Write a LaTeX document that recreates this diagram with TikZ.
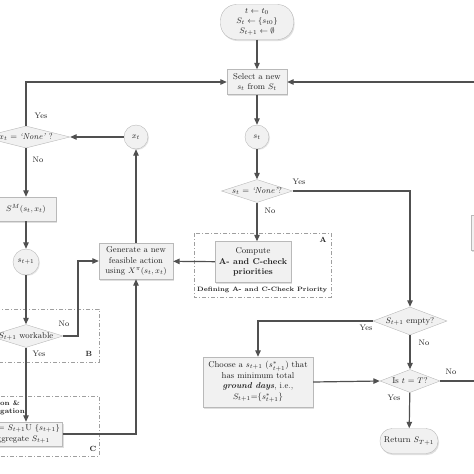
\documentclass[tikz,border=0pt]{standalone}
\usepackage{amssymb}
\usepackage{tikz}
\usetikzlibrary{arrows.meta}
\usetikzlibrary{shapes.geometric}
\usetikzlibrary{shadows}
\definecolor{linegray}{RGB}{80,80,80}
\definecolor{boxgray}{RGB}{241,241,241}
\definecolor{txtgray}{RGB}{35,35,35}
% text of a diamond, kept out of its size
\newcommand{\dtext}[1]{\smash{\raisebox{-.6ex}{\makebox[0pt]{#1}}}}

\begin{document}
\begin{tikzpicture}[x=1pt,y=-1pt,font=\fontsize{8.5}{10.5}\selectfont,text=txtgray]
\tikzstyle{box}=[rectangle,align=center,draw=gray!55,fill=boxgray,inner sep=1pt,drop shadow={opacity=.25,shadow xshift=1pt,shadow yshift=-1.5pt}]
\tikzstyle{term}=[box,rounded corners=12pt]
\tikzstyle{circ}=[circle,draw=gray!55,fill=boxgray,inner sep=0pt,drop shadow={opacity=.2,shadow xshift=1pt,shadow yshift=-1pt}]
\tikzstyle{dia}=[diamond,draw=gray!55,fill=boxgray,inner sep=0pt]
\tikzstyle{frame}=[draw=gray!75,line width=0.6pt,dash pattern=on 4pt off 2pt on 1pt off 2pt]
\tikzstyle{line}=[draw=linegray,line width=1.2pt,-{Triangle[length=6.5pt,width=5.5pt]}]
\tikzstyle{tag}=[inner sep=1pt,font=\fontsize{8}{9}\selectfont]
\useasboundingbox (0, 0) rectangle (474, 474);
\clip (0, 0) rectangle (474, 474);

% dashed groups
\draw[frame] (194, 233) rectangle (331, 297);
\draw[frame] (-20, 309) rectangle (99, 362);
\draw[frame] (-20, 396) rectangle (99, 456);
\node[tag,font=\fontsize{7.5}{9}\bfseries] at(323, 240) (la) {A};
\node[tag,font=\fontsize{7.5}{9}\bfseries] at(89, 354) (lb) {B};
\node[tag,font=\fontsize{7.5}{9}\bfseries] at(93, 449) (lc) {C};
\node[tag,anchor=west,font=\fontsize{6.3}{8}\bfseries] at(196, 290) (pa) {Defining A- and C-Check Priority};
\node[tag,anchor=east,font=\fontsize{7}{8}\bfseries] at(21, 403) (pc1) {on \&};
\node[tag,anchor=east,font=\fontsize{7}{8}\bfseries] at(26, 412) (pc2) {gation};

% nodes
\node[term,minimum width=73pt,minimum height=35pt,rounded corners=16pt,font=\fontsize{8}{10}\selectfont] at(257, 22) (st) {$t \leftarrow t_0$\\ $S_t \leftarrow \{s_{t0}\}$\\ $S_{t+1} \leftarrow \emptyset$};
\node[box,minimum width=60pt,minimum height=25pt] at(257, 82) (sel) {Select a new\\ $s_t$ from $S_t$};
\node[circ,minimum size=24pt] at(257, 137) (sc) {$s_t$};
\node[dia,minimum width=71pt,minimum height=23pt] at(257, 191) (d1) {\dtext{$s_t$ = \textit{`None'}?}};
\node[box,minimum width=76pt,minimum height=41pt] at(253, 262) (cmp) {Compute\\ \textbf{A- and C-check}\\ \textbf{priorities}};
\node[dia,minimum width=74pt,minimum height=28pt] at(410, 321) (d2) {\dtext{$S_{t+1}$ empty?}};
\node[dia,minimum width=60pt,minimum height=23pt] at(410, 381) (d3) {\dtext{Is $t$ = $T$?}};
\node[term,minimum width=58pt,minimum height=25pt] at(409, 441) (ret) {Return $S_{T+1}$};
\node[box,minimum width=110pt,minimum height=50pt] at(258, 382) (ch) {Choose a $s_{t+1}$ ($s^*_{t+1}$) that\\ has minimum total\\ \textbf{\textit{ground days}}, i.e.,\\ $S_{t+1}$=\{$s^*_{t+1}$\}};
\node[box,minimum width=74pt,minimum height=36pt] at(136, 261) (gen) {Generate a new\\ feasible action\\ using $X^{\pi}(s_t,x_t)$};
\node[circ,minimum size=24pt] at(136, 137) (xc) {$x_t$};
\node[dia,minimum width=88pt,minimum height=22pt] at(26, 137) (d4) {\dtext{$x_t$ = \textit{`None'} ?}};
\node[box,minimum width=60pt,minimum height=24pt] at(26, 209) (sm) {$S^M(s_t,x_t)$};
\node[circ,minimum size=26pt] at(26, 262) (sn) {$s_{t+1}$};
\node[dia,minimum width=74pt,minimum height=23pt] at(26, 336) (d5) {\dtext{$S_{t+1}$ workable}};
\node[box,minimum width=85pt,minimum height=24pt] at(20, 434) (agg) {$S_{t+1}$= $S_{t+1}$U $\{s_{t+1}\}$\\ Aggregate $S_{t+1}$};
\node[box,minimum width=30pt,minimum height=35pt,anchor=north west] at(471, 215) (rb) {};

% connectors
\draw[line] (st) -- (sel);
\draw[line] (sel) -- (sc);
\draw[line] (sc) -- (d1);
\draw[line] (d1.south) -- (d1.south |- cmp.north);
\draw[line] (cmp) -- (gen);
\draw[line] (d1.east) -| (d2.north);
\draw[line] (d2.west) -| (ch.north);
\draw[line] (d2) -- (d3);
\draw[line] (ch.east) -- (d3.west);
\draw[line] (d3) -- (ret);
\draw[line] (d3.east) -- (500, 381) |- (sel.east);
\draw[line] (d4.north) |- (sel.west);
\draw[line] (xc) -- (d4.east);
\draw[line] (gen) -- (xc);
\draw[line] (d4) -- (sm);
\draw[line] (sm) -- (sn);
\draw[line] (sn) -- (d5);
\draw[line] (d5.east) -- (78, 336) |- (gen.west);
\draw[line] (d5.south) -- (d5.south |- agg.north);
\draw[line] (agg.east) -| (gen.south);

% branch labels
\node[tag] at(41, 116) (y4) {Yes};
\node[tag] at(38, 160) (n4) {No};
\node[tag] at(299, 182) (y1) {Yes};
\node[tag] at(270, 211) (n1) {No};
\node[tag] at(64, 324) (n5) {No};
\node[tag] at(39, 354) (y5) {Yes};
\node[tag] at(366, 328) (y2) {Yes};
\node[tag] at(424, 343) (n2) {No};
\node[tag] at(451, 372) (n3) {No};
\node[tag] at(394, 398) (y3) {Yes};
\end{tikzpicture}
\end{document}
